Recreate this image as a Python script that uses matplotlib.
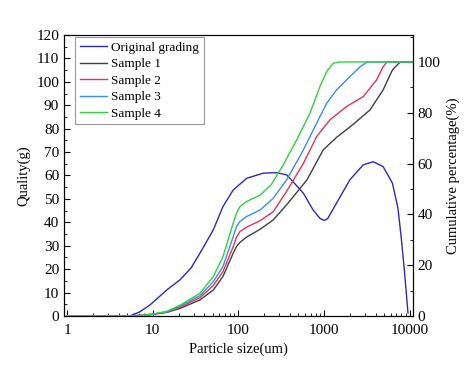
import matplotlib.pyplot as plt
from matplotlib.ticker import MultipleLocator, LogLocator, NullFormatter

plt.rcParams['font.family'] = ['Liberation Serif', 'DejaVu Serif']
plt.rcParams['font.size'] = 10.5

# Original grading (mass, g)
orig_x = [1, 3, 5.4, 7.1, 9.3, 14.6, 20.8, 28, 35.6, 51, 66, 87, 125, 195, 280, 365,
          400, 575, 745, 896, 1000, 1100, 1400, 2000, 2860, 3750, 4900, 6300, 7300,
          8000, 8700, 9560]
orig_y = [0, 0, 0, 1.8, 4.7, 11.1, 15.4, 20.5, 26.8, 36.8, 46.7, 53.8, 58.8, 61, 61.2,
          60.3, 58.8, 52.4, 45.3, 41.7, 40.8, 41.5, 48.2, 58.1, 64.5, 65.9, 63.8, 56.7,
          46, 33, 19, 1.3]

# Cumulative percentage (%)
s1_x = [1, 5, 8.5, 14.6, 21, 35.6, 51, 66, 87, 95, 104, 124, 179, 255, 365, 630, 980,
        1400, 2200, 3440, 4900, 6300, 7700, 8000, 11000]
s1_y = [0, 0, 0.3, 1.4, 3, 6.3, 10.2, 15.5, 24.7, 27.3, 28.9, 31, 34.1, 37.8, 43.7,
        53.5, 65.4, 70.3, 75.5, 81.1, 89, 96.9, 99.9, 100, 100]
s2_x = [1, 5, 8.5, 14.6, 21, 35.6, 51, 66, 87, 95, 104, 124, 179, 255, 365, 575, 820,
        1170, 1840, 2860, 4100, 4900, 5400, 11000]
s2_y = [0, 0, 0.3, 1.5, 3.5, 7.2, 12, 17.4, 27.3, 31, 33.2, 34.9, 37.5, 41, 49, 60.1,
        70.6, 77.2, 82.5, 86.3, 92.9, 98.1, 100, 100]
s3_x = [1, 5, 8.5, 14.6, 21, 35.6, 51, 66, 87, 95, 104, 124, 179, 255, 365, 575, 820,
        1072, 1400, 2000, 2640, 3150, 3400, 11000]
s3_y = [0, 0, 0.3, 1.6, 3.9, 8, 13.5, 19.4, 31.2, 35.2, 37.1, 39.1, 41.7, 46.3, 53.5,
        65.4, 75.9, 83.7, 89, 94.2, 98.1, 99.9, 100, 100]
s4_x = [1, 5, 8.5, 14.6, 21, 35.6, 51, 66, 87, 95, 104, 124, 179, 240, 334, 479, 685,
        896, 1072, 1280, 1500, 11000]
s4_y = [0, 0, 0.3, 1.8, 4.3, 8.9, 15.5, 23.3, 36.5, 40.4, 43, 45, 47.6, 51.5, 59.5,
        69.3, 79.8, 90.3, 96.2, 99.5, 100, 100]

fig = plt.figure(figsize=(4.74, 3.77), dpi=100)
ax = fig.add_axes([0.135, 0.162, 0.736, 0.745])
ax2 = ax.twinx()

l0, = ax.plot(orig_x, orig_y, color='#2b2bb5', lw=1, label='Original grading')
l1, = ax2.plot(s1_x, s1_y, color='#404040', lw=1, label='Sample 1')
l2, = ax2.plot(s2_x, s2_y, color='#e8305a', lw=1, label='Sample 2')
l3, = ax2.plot(s3_x, s3_y, color='#3a8ee8', lw=1, label='Sample 3')
l4, = ax2.plot(s4_x, s4_y, color='#30d040', lw=1, label='Sample 4')

ax.set_xscale('log')
ax.set_xlim(0.92, 10900)
ax.set_ylim(0, 120)
ax2.set_ylim(0, 110.6)

ax.set_xticks([1, 10, 100, 1000, 10000])
ax.set_xticklabels(['1', '10', '100', '1000', '10000'])
ax.xaxis.set_minor_locator(LogLocator(base=10, subs=range(2, 10), numticks=20))
ax.xaxis.set_minor_formatter(NullFormatter())
ax.yaxis.set_major_locator(MultipleLocator(10))
ax.yaxis.set_minor_locator(MultipleLocator(5))
ax2.set_yticks([0, 20, 40, 60, 80, 100])
ax2.yaxis.set_minor_locator(MultipleLocator(10))

ax.tick_params(which='both', direction='in', top=False, labelsize=11)
ax.tick_params(axis='x', pad=6)
ax.tick_params(which='major', length=4)
ax.tick_params(which='minor', length=2)
ax2.tick_params(which='both', direction='in', labelsize=11)
ax2.tick_params(which='major', length=4)
ax2.tick_params(which='minor', length=2)

ax.set_xlabel('Particle size(um)')
ax.set_ylabel('Quality(g)')
ax2.set_ylabel('Cumulative percentage(%)')

leg = ax.legend(handles=[l0, l1, l2, l3, l4], loc='upper left',
                bbox_to_anchor=(0.032, 0.993), borderaxespad=0, fontsize=9.5,
                fancybox=False, edgecolor='#808080', handlelength=2.1,
                borderpad=0.35, labelspacing=0.32, handletextpad=0.3)
leg.get_frame().set_linewidth(0.8)

fig.savefig('out.png', dpi=100)
